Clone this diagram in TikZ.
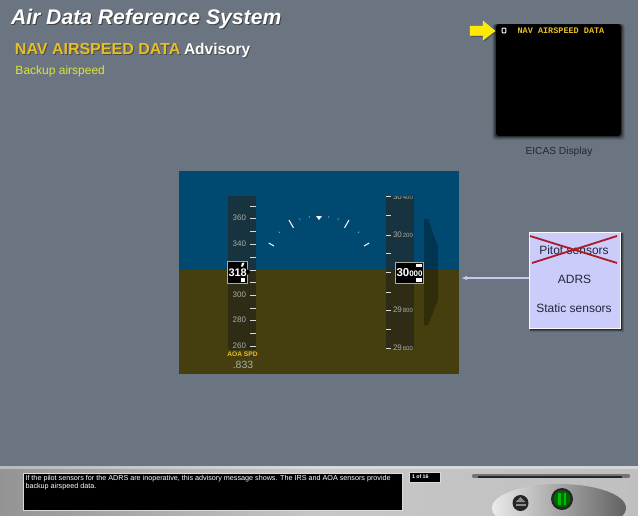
\documentclass[tikz,border=0pt]{standalone}
\usepackage{fontspec}
\setmainfont{Liberation Sans}
\setmonofont{Liberation Mono}
\usetikzlibrary{arrows.meta,shapes.geometric}
\definecolor{bgc}{HTML}{6B7582}
\definecolor{sky}{HTML}{004A72}
\definecolor{gnd}{HTML}{453F10}
\definecolor{tapesky}{HTML}{17333F}
\definecolor{tapegnd}{HTML}{2E2C15}
\definecolor{amber}{HTML}{E8BE25}
\definecolor{lemon}{HTML}{DDE23A}
\definecolor{adrs}{HTML}{CCCCFB}
\definecolor{inkc}{HTML}{22263C}
\definecolor{lineblue}{HTML}{C5C8F0}
\definecolor{xred}{HTML}{A81C28}
\definecolor{scalec}{HTML}{A9ADA4}
\newcommand{\shtxt}[3]{\rlap{\raisebox{-#1}{\hspace{#1}\textcolor{#2}{#3}}}#3}
\tikzset{
  lbl/.style={inner sep=0pt,outer sep=0pt},
  scalelbl/.style={lbl,text=scalec,font=\fontsize{8}{8}\selectfont},
  readout/.style={draw=scalec,fill=black,line width=.7pt},
  tick/.style={draw=white!85!black,line width=.7pt},
}
\begin{document}
\begin{tikzpicture}[x=1pt,y=-1pt]
\useasboundingbox (0,0) rectangle (638,515);
\fill[bgc] (0,0) rectangle (638,515);

% headings
\node[lbl,anchor=base west,text=white,font=\fontsize{21.15}{24}\bfseries\itshape\selectfont] (title) at (11,24.5) {\shtxt{1pt}{black!75}{Air Data Reference System}};
\node[lbl,anchor=base west,text=amber,font=\fontsize{16}{18}\bfseries\selectfont] (sub) at (15,54) {\shtxt{1pt}{black!70}{NAV AIRSPEED DATA}};
\node[lbl,anchor=base west,text=white,font=\fontsize{15.5}{18}\bfseries\selectfont] (subadv) at (184,54) {\shtxt{1pt}{black!70}{Advisory}};
\node[lbl,anchor=base west,text=lemon,font=\fontsize{12}{14}\selectfont] (backup) at (15.5,74.5) {Backup airspeed};

% EICAS
\foreach \d/\o in {4/.1,3/.15,2/.2,1/.3}{
  \fill[black,opacity=\o,rounded corners=3pt] (496-\d,24) rectangle (621+\d,136+\d);
}
\node[lbl,draw=none,fill=black,rounded corners=3pt,minimum width=125pt,minimum height=112pt,anchor=north west] (eicas) at (496,24) {};
\node[lbl,anchor=center,text=amber,font=\fontsize{8.5}{8}\ttfamily\bfseries\selectfont] (eicasmsg) at (561,30.3) {NAV AIRSPEED DATA};
\node[lbl,draw=white,line width=1pt,rounded corners=.6pt,minimum width=3.6pt,minimum height=4.6pt] (eicasbox) at (504,30.5) {};
\node[lbl,anchor=center,text=inkc,font=\fontsize{10.2}{12}\selectfont] (eicaslbl) at (559,151.5) {EICAS Display};
% yellow arrow
\fill[black,opacity=.25] (471,27) -- (484,27) -- (484,22) -- (496,32) -- (484,42) -- (484,37) -- (471,37) -- cycle;
\fill[yellow!92!orange,draw=yellow!70!white,line width=.4pt] (470,26) -- (483,26) -- (483,21) -- (495,31) -- (483,40) -- (483,35.5) -- (470,35.5) -- cycle;

% PFD
\node[lbl,fill=sky,minimum width=280pt,minimum height=99pt,anchor=north west] (pfdsky) at (179,171) {};
\node[lbl,fill=gnd,minimum width=280pt,minimum height=104pt,anchor=north west] (pfd) at (179,270) {};
% attitude arc
\foreach \a in {-30,30}{
  \draw[white,line width=1pt,shift={(319,272)}] (\a-90:51) -- (\a-90:60);
}
\foreach \a in {-60,60}{
  \draw[white,line width=1pt,shift={(319,272)}] (\a-90:52) -- (\a-90:58);
}
\foreach \a in {-45,-20,-10,10,20,45}{
  \draw[white,opacity=.55,line width=.6pt,shift={(319,272)}] (\a-90:55) -- (\a-90:57);
}
\fill[white] (316,216) -- (322,216) -- (319,220) -- cycle;

% speed tape
\fill[tapesky] (228,196) rectangle (256,270);
\fill[tapegnd] (228,270) rectangle (256,350);
\foreach \y in {206,218,231,244,257,270,282,295,308,320,333,346}{
  \draw[tick] (250,\y) -- (255.5,\y);
}
\foreach \y/\t in {218/360,244/340,295/300,320/280,346/260}{
  \node[scalelbl,anchor=east] (spd\t) at (246,\y) {\t};
}
\node[readout,lbl,minimum width=20pt,minimum height=22pt] (spdbox) at (237,272) {};
\fill[black] (247,269) -- (250,272) -- (247,275) -- cycle;
\node[lbl,anchor=west,text=white,font=\fontsize{11}{12}\bfseries\selectfont] (spdval) at (228.5,272.5) {318};
\fill[white] (242,263) -- (244.5,262.5) -- (243,266.5) -- (241,266.5) -- cycle;
\fill[white] (241,278) rectangle (244.5,281.5);
\node[lbl,text=amber,font=\fontsize{6.6}{7}\bfseries\selectfont] (aoa) at (242.5,354) {AOA SPD};
\node[lbl,text=scalec,font=\fontsize{10.5}{11}\selectfont] (mach) at (243,364.5) {.833};

% altitude tape
\fill[tapesky] (386,196) rectangle (414,270);
\fill[tapegnd] (386,270) rectangle (414,349);
\foreach \y in {196,215,235,253,272,292,310,329,348}{
  \draw[tick] (386,\y) -- (391,\y);
}
\begin{scope}
\clip (386,196.5) rectangle (414,349);
\foreach \y/\a/\b in {197/30/400,235/30/200,310/29/800,348/29/600}{
  \node[scalelbl,anchor=west] (alt\a\b) at (393,\y) {\a\fontsize{6}{6}\selectfont\,\b};
}
\end{scope}
\node[readout,lbl,minimum width=28pt,minimum height=21pt] (altbox) at (409,272.5) {};
\node[lbl,anchor=west,text=white,font=\fontsize{11.5}{12}\bfseries\selectfont] (altval) at (396.5,272.5) {30\fontsize{8}{8}\selectfont 000};
\fill[white] (416,263.5) rectangle (422,267);
\fill[white] (416,278) rectangle (422,281.5);

% vertical speed shape
\fill[black,opacity=.28] (424,219) -- (428,219) -- (438,247) -- (438,300) -- (428,325) -- (424,325) -- cycle;

% ADRS box
\foreach \d/\o in {3/.15,2/.25,1/.4}{
  \fill[black,opacity=\o] (530,233) rectangle (621+\d,329+\d);
}
\node[lbl,fill=adrs,draw=white!88!adrs,line width=.7pt,minimum width=91pt,minimum height=96pt,anchor=north west] (adrsbox) at (529,232) {};
\node[lbl,text=inkc,font=\fontsize{12}{14}\selectfont] (pitot) at (574,250) {Pitot sensors};
\node[lbl,text=inkc,font=\fontsize{12}{14}\selectfont] (adrslbl) at (574.5,279.5) {ADRS};
\node[lbl,text=inkc,font=\fontsize{12}{14}\selectfont] (static) at (574,308.5) {Static sensors};
\draw[xred,line width=1.8pt] (530,236) -- (617,263);
\draw[xred,line width=1.8pt] (532,263) -- (617,236);
\coordinate (pfdport) at (461,278);
\draw[lineblue,line width=1.2pt,-{Latex[length=6pt,width=4.5pt]}] (adrsbox.west |- pfdport) -- (pfdport);

% bottom panel
\shade[left color=black!42,right color=black!25,middle color=black!22] (0,466) rectangle (638,515);
\fill[white,opacity=.35] (0,466) rectangle (638,469);
\node[lbl,fill=black,draw=black!15,line width=.6pt,minimum width=379pt,minimum height=37pt,anchor=north west] (msgbox) at (23,473) {};
\node[lbl,anchor=north west,align=left,text=white,font=\fontsize{7.2}{8}\selectfont] (msg) at (25.5,475.5) {If the pilot sensors for the ADRS are inoperative, this advisory message shows. The IRS and AOA sensors provide\\backup airspeed data.};
\node[lbl,fill=black,draw=black!15,line width=.4pt,minimum width=31pt,minimum height=10pt,anchor=north west] (counter) at (409,472) {};
\node[lbl,anchor=west,text=white,font=\fontsize{5.2}{6}\bfseries\selectfont] (countertxt) at (412,477) {1 of 16};
\draw[black!55,line width=4.5pt,line cap=round] (474,476) -- (628,476);
\draw[black!85,line width=1.4pt] (478,477) -- (622,477);
\begin{scope}
\clip (0,466) rectangle (638,515);
\shade[left color=black!8,right color=black!62] (559,508) ellipse (67 and 24);
\end{scope}
\node[circle,lbl,fill=black!85,minimum size=16pt] (eject) at (520.5,503) {};
\fill[black!45] (515.5,502) -- (520.5,497) -- (525.5,502) -- cycle;
\fill[black!45] (515.5,503.5) rectangle (525.5,506);
\node[circle,lbl,fill=black!85,minimum size=22pt] (play) at (562,499) {};
\node[circle,lbl,fill=green!40!black,minimum size=17pt] (playin) at (562,499) {};
\fill[green!75!black] (558,493) rectangle (560.5,505);
\fill[green!75!black] (563.5,493) rectangle (566,505);
\end{tikzpicture}
\end{document}
